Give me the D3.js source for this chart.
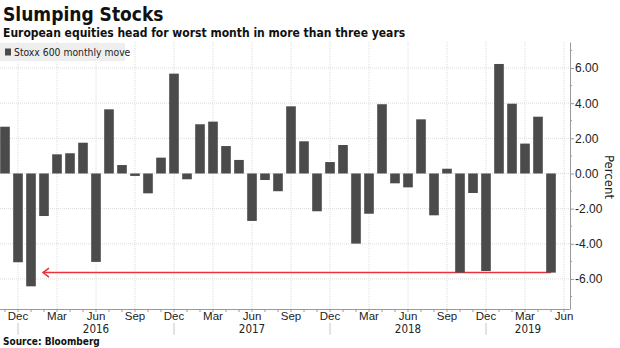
<!DOCTYPE html>
<html>
<head>
<meta charset="utf-8">
<script src="https://cdn.jsdelivr.net/npm/d3@7"></script>
<style>
  body { margin: 0; background: #fff; }
  svg { display: block; font-family: "DejaVu Sans Condensed", "DejaVu Sans", sans-serif; font-stretch: condensed; }
</style>
</head>
<body>
<svg id="chart" width="620" height="348"></svg>
<script>
// months on the axis (Jun 2019 has no bar yet)
let months = [
  "2015-11", "2015-12",
  "2016-01", "2016-02", "2016-03", "2016-04", "2016-05", "2016-06",
  "2016-07", "2016-08", "2016-09", "2016-10", "2016-11", "2016-12",
  "2017-01", "2017-02", "2017-03", "2017-04", "2017-05", "2017-06",
  "2017-07", "2017-08", "2017-09", "2017-10", "2017-11", "2017-12",
  "2018-01", "2018-02", "2018-03", "2018-04", "2018-05", "2018-06",
  "2018-07", "2018-08", "2018-09", "2018-10", "2018-11", "2018-12",
  "2019-01", "2019-02", "2019-03", "2019-04", "2019-05", "2019-06"
];
// Stoxx 600 monthly move, percent (Nov 2015 .. May 2019)
let moves = [
  2.66, -5.05,
  -6.42, -2.42, 1.09, 1.15, 1.75, -5.03,
  3.65, 0.48, -0.14, -1.13, 0.90, 5.68,
  -0.33, 2.80, 2.95, 1.56, 0.77, -2.70,
  -0.37, -1.01, 3.82, 1.83, -2.15, 0.65,
  1.62, -3.99, -2.29, 3.94, -0.56, -0.79,
  3.08, -2.38, 0.27, -5.64, -1.11, -5.55,
  6.23, 3.97, 1.70, 3.23, -5.64
];
let yTicks = [-6, -4, -2, 0, 2, 4, 6];
let yMinor = [-7, -5, -3, -1, 1, 3, 5, 7];
let quarterLabels = { 3: "Mar", 6: "Jun", 9: "Sep", 12: "Dec" };
let years = ["2016", "2017", "2018", "2019"];
let title = "Slumping Stocks";
let subtitle = "European equities head for worst month in more than three years";
let legendLabel = "Stoxx 600 monthly move";
let axisTitle = "Percent";
let source = "Source: Bloomberg";

const barColor = "#4b4b4b";
const gridColor = "#dcdcdc";
const axisColor = "#9a9a9a";
const textColor = "#222";

let svg = d3.select("#chart");
let plot = { left: 0, right: 570, top: 42, bottom: 309 };

let x = d3.scaleBand()
  .domain(months)
  .range([-1.5, 570.5])
  .paddingInner(0.26)
  .paddingOuter(0.13);
let y = d3.scaleLinear()
  .domain([-7.71, 7.48])
  .range([plot.bottom, plot.top]);
let cx = m => x(m) + x.bandwidth() / 2;
let monthOf = m => +m.split("-")[1];

svg.append("rect").attr("width", 620).attr("height", 348).attr("fill", "#fff");

svg.append("defs").append("clipPath").attr("id", "plotclip")
  .append("rect")
  .attr("x", plot.left).attr("y", plot.top)
  .attr("width", plot.right - plot.left).attr("height", plot.bottom - plot.top);

let g = svg.append("g").attr("clip-path", "url(#plotclip)");

// grid
g.selectAll(".hgrid").data(yTicks).join("line")
  .attr("x1", plot.left).attr("x2", plot.right)
  .attr("y1", d => y(d)).attr("y2", d => y(d))
  .attr("stroke", gridColor).attr("stroke-dasharray", "1,1");

let quarterMonths = months.filter(m => quarterLabels[monthOf(m)]);
g.selectAll(".vgrid").data(quarterMonths).join("line")
  .attr("x1", d => cx(d)).attr("x2", d => cx(d))
  .attr("y1", plot.top).attr("y2", plot.bottom)
  .attr("stroke", gridColor).attr("stroke-dasharray", "1,1");

// red arrow: latest move back to the last comparable low
let lastMonth = months[moves.length - 1];
let lowMonth = months[moves.indexOf(d3.min(moves))];
let ya = y(moves[moves.length - 1]);
let tipX = cx(lowMonth) + 12;
g.append("line")
  .attr("x1", tipX).attr("x2", cx(lastMonth))
  .attr("y1", ya).attr("y2", ya)
  .attr("stroke", "#e8343a").attr("stroke-width", 1.5);
g.append("path")
  .attr("d", `M${tipX + 6},${ya - 4.5}L${tipX},${ya}L${tipX + 6},${ya + 4.5}`)
  .attr("fill", "none").attr("stroke", "#e8343a").attr("stroke-width", 1.5);

// bars
g.selectAll(".bar").data(moves).join("rect")
  .attr("x", (d, i) => x(months[i]))
  .attr("width", x.bandwidth())
  .attr("y", d => y(Math.max(0, d)))
  .attr("height", d => Math.abs(y(d) - y(0)))
  .attr("fill", barColor);

// right axis
let yAxis = svg.append("g")
  .attr("transform", `translate(${plot.right},0)`)
  .call(d3.axisRight(y).tickValues(yTicks).tickSize(4).tickSizeOuter(0)
    .tickFormat(d => d.toFixed(2)));
yAxis.select(".domain").attr("stroke", axisColor);
yAxis.selectAll(".tick line").attr("stroke", axisColor);
yAxis.selectAll(".tick text")
  .attr("x", 5).attr("fill", textColor)
  .style("font-size", "12px");
yAxis.selectAll(".minor").data(yMinor).join("line")
  .attr("x1", 0).attr("x2", 2)
  .attr("y1", d => y(d)).attr("y2", d => y(d))
  .attr("stroke", axisColor);

svg.append("text")
  .attr("transform", "translate(605,177) rotate(90)")
  .attr("text-anchor", "middle")
  .attr("fill", textColor)
  .style("font-size", "13px")
  .text(axisTitle);

// bottom axis
let xAxis = svg.append("g")
  .attr("transform", `translate(0,${plot.bottom})`)
  .call(d3.axisBottom(x).tickSize(3).tickSizeOuter(0)
    .tickFormat(m => quarterLabels[monthOf(m)] || ""));
xAxis.select(".domain").attr("stroke", axisColor).attr("d", `M${plot.left},0.5H${plot.right}`);
xAxis.selectAll(".tick line").attr("stroke", axisColor);
xAxis.selectAll(".tick text")
  .attr("y", 3).attr("fill", textColor)
  .style("font-size", "11.5px");

// year separators and labels
let decs = months.filter(m => monthOf(m) === 12);
svg.selectAll(".ysep").data(decs).join("line")
  .attr("x1", d => cx(d)).attr("x2", d => cx(d))
  .attr("y1", 323).attr("y2", 335)
  .attr("stroke", "#c8c8c8");
svg.selectAll(".ylab").data(years).join("text")
  .attr("x", (d, i) => {
    let a = cx(decs[i]);
    let b = decs[i + 1] ? cx(decs[i + 1]) : plot.right;
    return (a + b) / 2;
  })
  .attr("y", 333)
  .attr("text-anchor", "middle")
  .attr("fill", textColor)
  .style("font-size", "11.5px")
  .text(d => d);

// titles
svg.append("text").attr("x", 3).attr("y", 21)
  .attr("font-weight", "bold").style("font-size", "19px").attr("fill", "#111")
  .text(title);
svg.append("text").attr("x", 3).attr("y", 37)
  .attr("font-weight", "bold").style("font-size", "12px").attr("fill", "#111")
  .text(subtitle);

// legend
let leg = svg.append("g");
leg.append("rect").attr("x", 0).attr("y", 43).attr("width", 125).attr("height", 18).attr("fill", "#eeeeee");
leg.append("rect").attr("x", 5).attr("y", 48.5).attr("width", 6).attr("height", 7).attr("fill", barColor);
leg.append("text").attr("x", 14).attr("y", 56)
  .attr("fill", textColor).style("font-size", "10.3px")
  .text(legendLabel);

// source
svg.append("text").attr("x", 3).attr("y", 345)
  .attr("font-weight", "bold").style("font-size", "10px").attr("fill", "#111")
  .text(source);
</script>
</body>
</html>
